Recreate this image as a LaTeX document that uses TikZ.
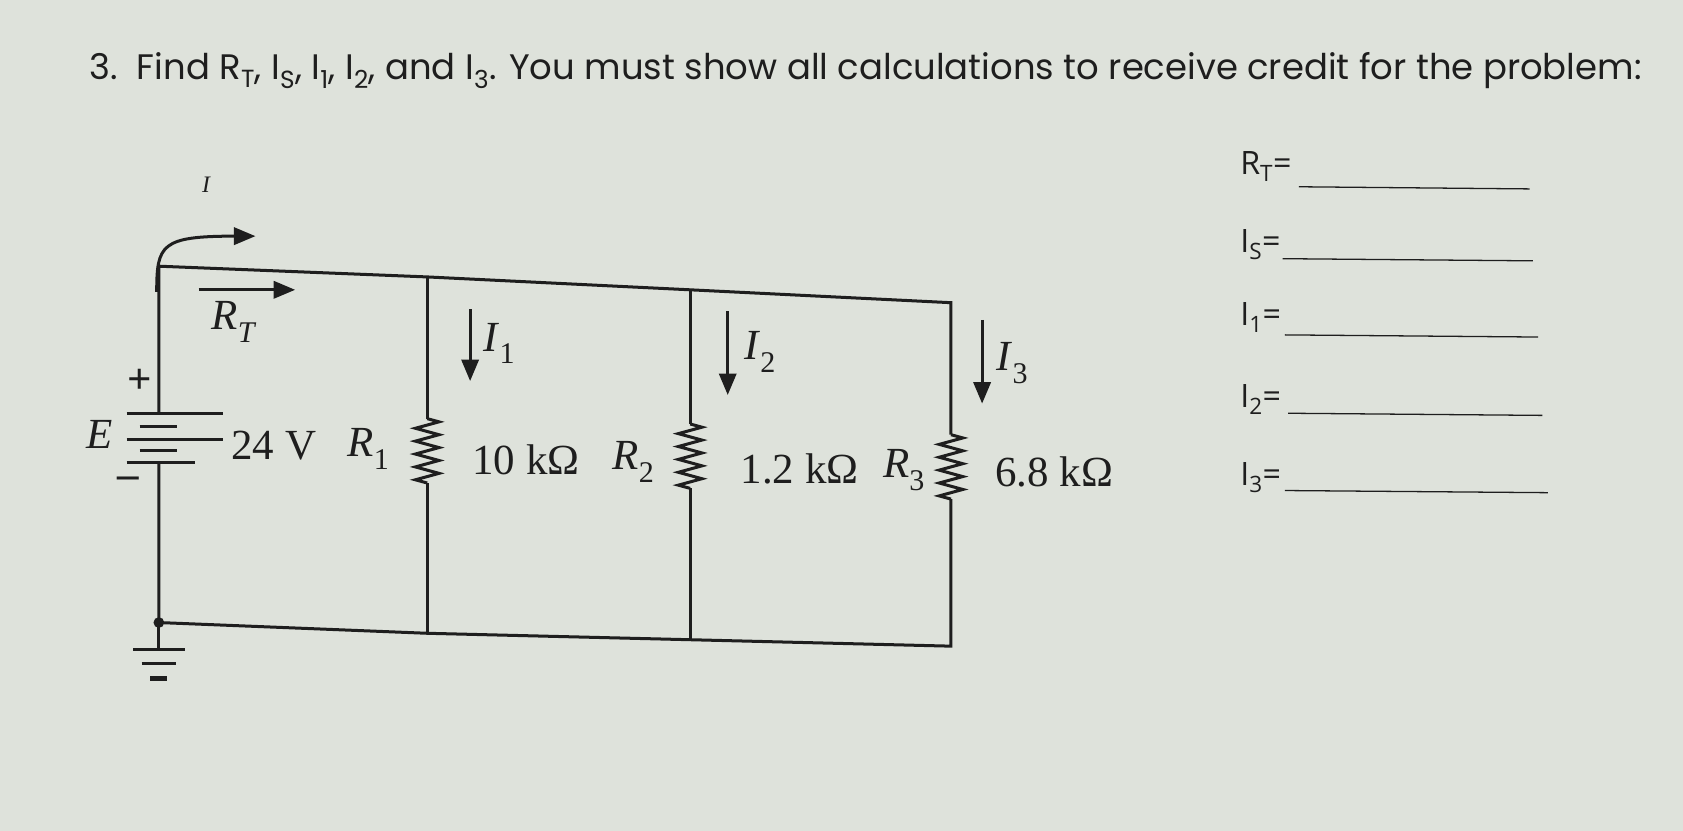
\documentclass[tikz,border=0pt]{standalone}
\usepackage{fontspec}
\setmainfont{Liberation Serif}
\newfontfamily\titlefont{Poppins}
\newfontfamily\ansfont{Open Sans}
\usetikzlibrary{arrows.meta,decorations.pathmorphing}
\definecolor{paper}{HTML}{DEE2DB}
\definecolor{ink}{HTML}{1E1E1E}
\newcommand{\vsub}[2]{\textit{#1}\raisebox{-0.3em}{\fontsize{28}{30}\selectfont #2}}
\newcommand{\vsubi}[2]{\textit{#1}\raisebox{-0.3em}{\fontsize{28}{30}\selectfont\textit{#2}}}
\begin{document}
\begin{tikzpicture}[x=1pt,y=-1pt,
  wire/.style={ink,line width=2.8pt},
  res/.style={ink,line width=2.8pt,decorate,decoration={zigzag,amplitude=11pt,segment length=12pt}},
  curr/.style={ink,line width=2.8pt,-{Triangle[length=20pt,width=16pt]}},
  lab/.style={font=\fontsize{40}{42}\selectfont,text=ink},
  ans/.style={font=\ansfont\fontsize{30}{32}\selectfont,text=ink,anchor=west}]
\fill[paper] (0,0) rectangle (1568,774);
\useasboundingbox (0,0) rectangle (1568,774);
\node[anchor=west,font=\titlefont\fontsize{33}{35}\selectfont,text=ink] (title) at (80,66)
 {3.\ \ Find R\textsubscript{T}, I\textsubscript{S}, I\textsubscript{1}, I\textsubscript{2}, and I\textsubscript{3}. You must show all calculations to receive credit for the problem:};
\coordinate (tl) at (148,248); \coordinate (bl) at (148,580);
\coordinate (t1) at (398,258); \coordinate (b1) at (398,590);
\coordinate (t2) at (643,270); \coordinate (b2) at (643,596);
\coordinate (t3) at (886,282); \coordinate (b3) at (886,602);
\coordinate (bt) at (148,385); \coordinate (bb) at (148,430);
\coordinate (r1a) at (398,390); \coordinate (r1b) at (398,450);
\coordinate (r2a) at (643,395); \coordinate (r2b) at (643,455);
\coordinate (r3a) at (886,405); \coordinate (r3b) at (886,465);
\coordinate (gnd) at (148,605);
\draw[wire] (bt) -- (tl) -- (t1) -- (t2) -- (t3) -- (r3a);
\draw[wire] (r3b) -- (b3) -- (b2) -- (b1) -- (bl) -- (bb);
\draw[wire] (t1) -- (r1a); \draw[wire] (r1b) -- (b1);
\draw[wire] (t2) -- (r2a); \draw[wire] (r2b) -- (b2);
\draw[res] (r1a) -- (r1b); \draw[res] (r2a) -- (r2b); \draw[res] (r3a) -- (r3b);
% battery
\draw[wire] (118,385) -- (208,385);
\draw[wire] (130,397) -- (165,397);
\draw[wire] (118,409) -- (208,409);
\draw[wire] (130,420) -- (165,420);
\draw[wire] (118,431) -- (182,431);
\fill[ink] (bl) circle (5pt);
\draw[wire] (bl) -- (gnd);
\draw[wire] (124,605) -- (172,605);
\draw[wire] (132,618) -- (164,618);
\draw[line width=5pt,ink] (140,632) -- (156,632);
% currents
\draw[curr] (185,270) -- (275,270);
\draw[curr] (438,288) -- (438,355);
\draw[curr] (678,290) -- (678,368);
\draw[curr] (915,298) -- (915,376);
\draw[curr] (146,272) .. controls (146,228) and (150,220) .. (238,220);
% labels
\node[lab] (e) at (93,405) {\textit{E}};
\node[lab] (plus) at (130,355) {\textbf{+}};
\node[lab] (minus) at (120,450) {\textbf{--}};
\node[lab] (v) at (255,415) {24 V};
\node[lab] (lR1) at (343,418) {\vsub{R}{1}};
\node[lab] (lR2) at (590,430) {\vsub{R}{2}};
\node[lab] (lR3) at (842,438) {\vsub{R}{3}};
\node[lab] (v1) at (490,428) {10 kΩ};
\node[lab] (v2) at (745,437) {1.2 kΩ};
\node[lab] (v3) at (982,440) {6.8 kΩ};
\node[lab] (lI1) at (465,320) {\vsub{I}{1}};
\node[lab] (lI2) at (708,328) {\vsub{I}{2}};
\node[lab] (lI3) at (943,338) {\vsub{I}{3}};
\node[lab] (lRT) at (218,300) {\vsubi{R}{T}};
\node[font=\fontsize{22}{24}\selectfont\itshape,text=ink] (lI) at (192,172) {I};
% answers
\node[ans] (aRT) at (1152,155) {R\textsubscript{T}=};
\node[ans] (aIS) at (1152,228) {I\textsubscript{S}=};
\node[ans] (aI1) at (1152,296) {I\textsubscript{1}=};
\node[ans] (aI2) at (1152,372) {I\textsubscript{2}=};
\node[ans] (aI3) at (1152,445) {I\textsubscript{3}=};
\draw[ink,line width=1.2pt] (1210,174) -- (1425,176);
\draw[ink,line width=1.2pt] (1195,241) -- (1428,243);
\draw[ink,line width=1.2pt] (1197,312) -- (1433,314);
\draw[ink,line width=1.2pt] (1200,385) -- (1437,387);
\draw[ink,line width=1.2pt] (1197,457) -- (1442,459);
\end{tikzpicture}
\end{document}
